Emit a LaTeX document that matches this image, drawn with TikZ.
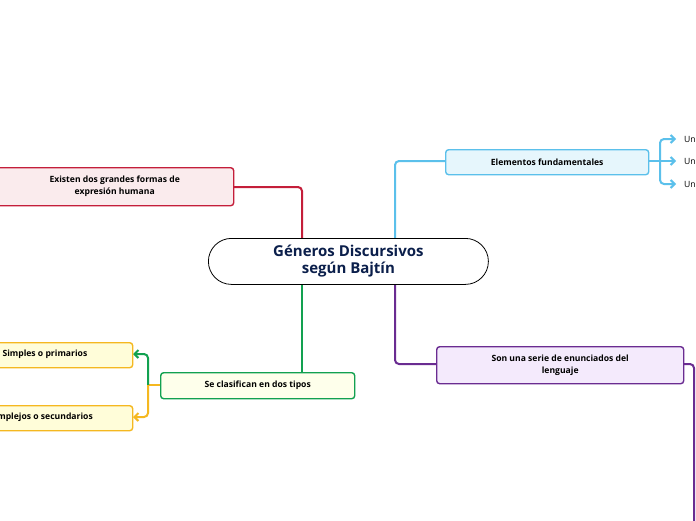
\documentclass[tikz,border=0pt]{standalone}
\usepackage{fontspec}
\setmainfont{Open Sans}
\usetikzlibrary{arrows.meta}
\definecolor{cred}{HTML}{C41E3A}\definecolor{cblue}{HTML}{5BC0EB}
\definecolor{cpurp}{HTML}{6A2C91}\definecolor{cgreen}{HTML}{12A150}
\definecolor{cyel}{HTML}{F5B820}\definecolor{navy}{HTML}{0B1F4B}
\definecolor{fpurp}{HTML}{F4EAFC}
\tikzset{box/.style={draw,rounded corners=3pt,line width=1.4pt,inner sep=0pt,font=\bfseries\fontsize{8.6}{12}\selectfont,align=center,anchor=north west},
 lbl/.style={font=\bfseries\fontsize{8.6}{12}\selectfont,anchor=west},
 con/.style={line width=2pt,rounded corners=4pt},
 arr/.style={con,-{Straight Barb[length=4pt,width=8pt]}}}
\begin{document}
\begin{tikzpicture}[x=1pt,y=-1pt]
\useasboundingbox (0,0) rectangle (696,520);
\fill[white] (0,0) rectangle (696,520);
% connectors
\draw[con,cred] (302,240) |- (233,187);
\draw[con,cblue] (395,240) |- (445,161);
\draw[con,cpurp] (395,282) |- (436,364);
\draw[con,cpurp] (683,364) -| (694,522);
\draw[con,cgreen] (302,282) -- (302,372);
\coordinate (bj) at (660,161);
\draw[con,cblue] (648,161) -- (bj);
\draw[arr,cblue] (bj) |- (676,139);
\draw[arr,cblue] (bj) -- (676,161);
\draw[arr,cblue] (bj) |- (676,184);
\coordinate (gj) at (148,385);
\draw[con,cyel] (160,385) -- (gj);
\draw[arr,cgreen] (gj) |- (133,354);
\draw[arr,cyel] (gj) |- (133,417);
% nodes
\node[draw,rounded corners=23pt,line width=0.8pt,fill=white,minimum width=280pt,minimum height=46pt,anchor=north west,align=center,font=\bfseries\fontsize{15}{17}\selectfont,text=navy] (c) at (208,238) {Géneros Discursivos\\según Bajtín};
\node[box,cred,fill=cred!9,text=black,minimum width=238pt,minimum height=38pt] (r) at (-5,167) {Existen dos grandes formas de\\expresión humana};
\node[box,cblue,fill=cblue!15,text=black,minimum width=203pt,minimum height=25pt] (b) at (445,149) {Elementos fundamentales};
\node[box,cpurp,fill=fpurp,text=black,minimum width=247pt,minimum height=37pt] (p) at (436,346) {Son una serie de enunciados del\\lenguaje};
\node[box,cgreen,fill=cgreen!4!yellow!8,text=black,minimum width=194pt,minimum height=26pt] (g) at (160,372) {Se clasifican en dos tipos};
\node[box,cyel,fill=yellow!15,text=black,minimum width=137pt,minimum height=25pt] (s) at (-5,342) {};
\node[lbl] at (-1,354.5) {Simples o primarios};
\node[box,cyel,fill=yellow!15,text=black,minimum width=137pt,minimum height=25pt] (k) at (-5,405) {};
\node[lbl] at (-17,417) {Complejos o secundarios};
\foreach \y in {139,161,184} \node[font=\fontsize{8.6}{10}\selectfont,anchor=west,inner sep=0pt] at (684,\y) {Un};
\end{tikzpicture}
\end{document}
